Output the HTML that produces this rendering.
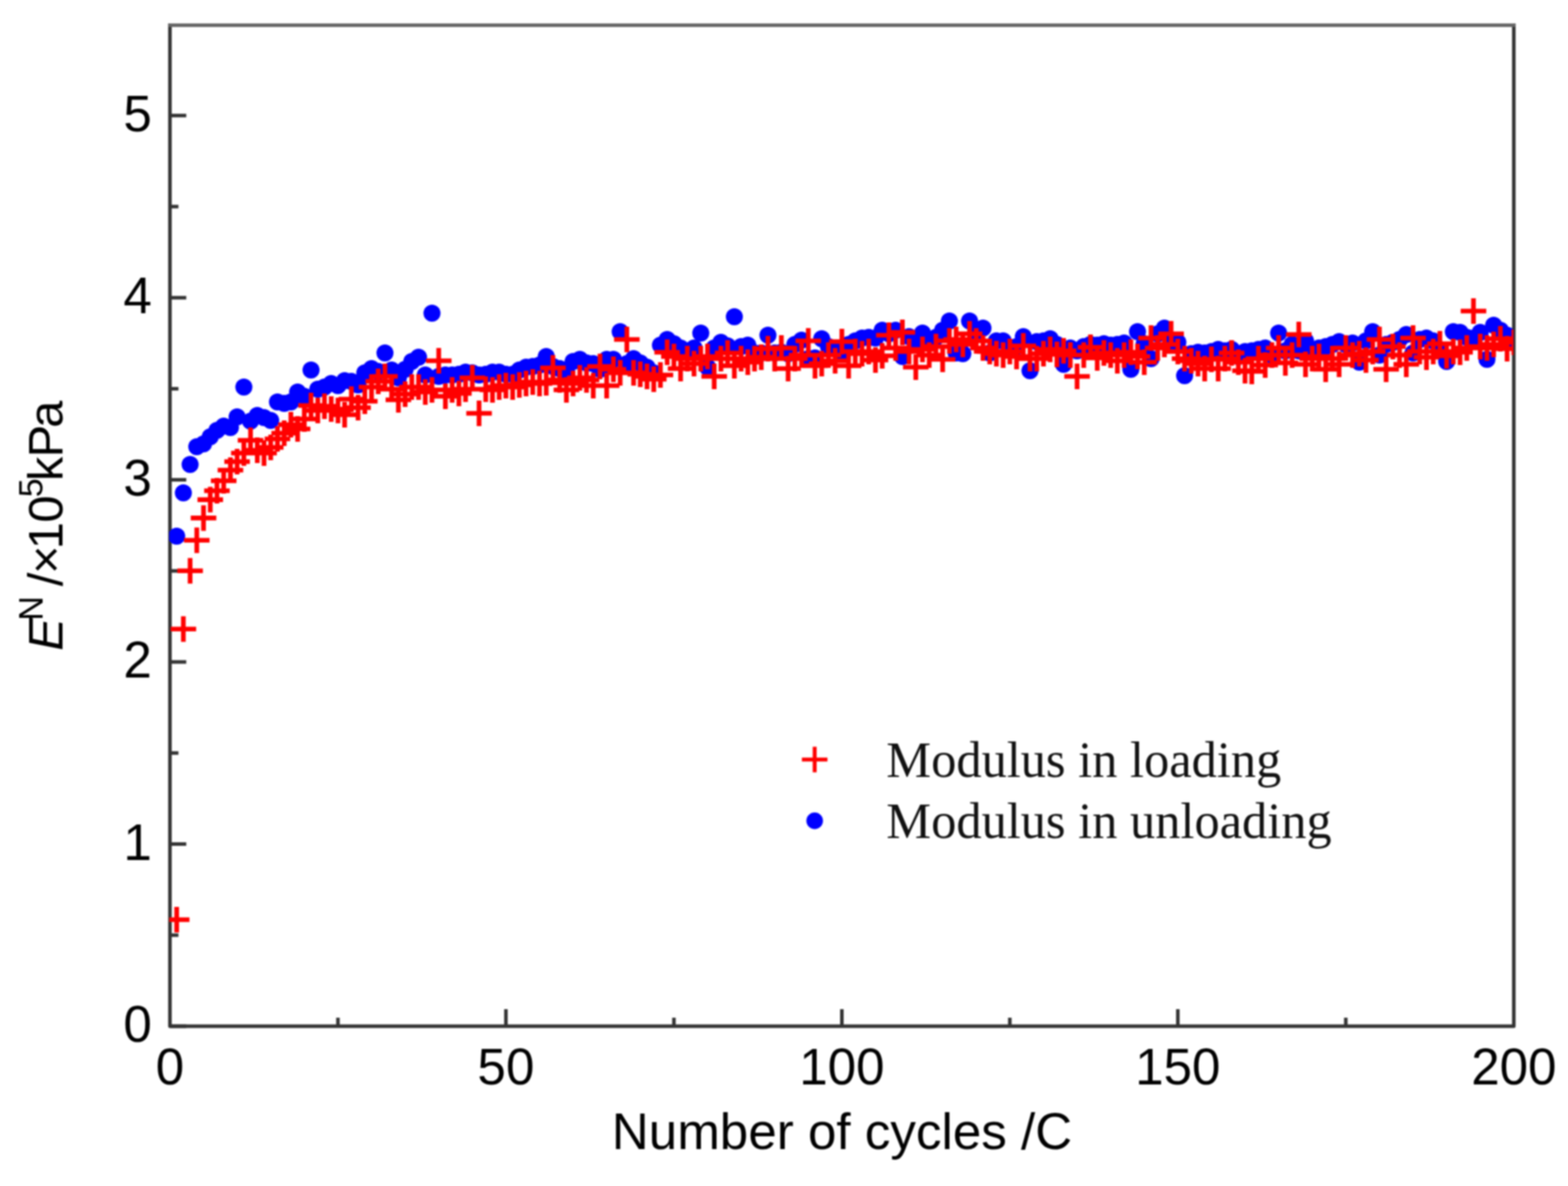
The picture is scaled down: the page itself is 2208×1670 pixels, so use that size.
<!DOCTYPE html>
<html><head><meta charset="utf-8"><title>Modulus vs cycles</title>
<style>
html,body{margin:0;padding:0;background:#fff;}
body{width:2208px;height:1670px;overflow:hidden;}
svg{display:block;filter:blur(1.2px);}
</style></head><body>
<svg width="2208" height="1670" viewBox="0 0 2208 1670">
<rect x="0" y="0" width="2208" height="1670" fill="#ffffff"/>
<g stroke="#333333" stroke-width="5" fill="none" stroke-linecap="square">
<path d="M239.3 35.4V1445.0H2131.7V35.4" stroke-linejoin="round"/>
<path d="M239.3 35.4H2131.7" stroke="#666666" stroke-linecap="round"/>
<line x1="239.3" y1="1445.0" x2="262.3" y2="1445.0" stroke-linecap="butt"/>
<line x1="239.3" y1="1188.5" x2="262.3" y2="1188.5" stroke-linecap="butt"/>
<line x1="239.3" y1="932.1" x2="262.3" y2="932.1" stroke-linecap="butt"/>
<line x1="239.3" y1="675.6" x2="262.3" y2="675.6" stroke-linecap="butt"/>
<line x1="239.3" y1="419.2" x2="262.3" y2="419.2" stroke-linecap="butt"/>
<line x1="239.3" y1="162.7" x2="262.3" y2="162.7" stroke-linecap="butt"/>
<line x1="239.3" y1="1316.8" x2="251.3" y2="1316.8" stroke-linecap="butt"/>
<line x1="239.3" y1="1060.3" x2="251.3" y2="1060.3" stroke-linecap="butt"/>
<line x1="239.3" y1="803.9" x2="251.3" y2="803.9" stroke-linecap="butt"/>
<line x1="239.3" y1="547.4" x2="251.3" y2="547.4" stroke-linecap="butt"/>
<line x1="239.3" y1="290.9" x2="251.3" y2="290.9" stroke-linecap="butt"/>
<line x1="712.4" y1="1445.0" x2="712.4" y2="1421.0" stroke-linecap="butt"/>
<line x1="1185.5" y1="1445.0" x2="1185.5" y2="1421.0" stroke-linecap="butt"/>
<line x1="1658.6" y1="1445.0" x2="1658.6" y2="1421.0" stroke-linecap="butt"/>
<line x1="475.9" y1="1445.0" x2="475.9" y2="1433.0" stroke-linecap="butt"/>
<line x1="949.0" y1="1445.0" x2="949.0" y2="1433.0" stroke-linecap="butt"/>
<line x1="1422.0" y1="1445.0" x2="1422.0" y2="1433.0" stroke-linecap="butt"/>
<line x1="1895.1" y1="1445.0" x2="1895.1" y2="1433.0" stroke-linecap="butt"/>
</g>
<clipPath id="pa"><rect x="238.3" y="33" width="1892.9" height="1412"/></clipPath>
<g clip-path="url(#pa)">
<g fill="#0000ff">
<circle cx="248.8" cy="755.0" r="12"/>
<circle cx="258.2" cy="694.0" r="12"/>
<circle cx="267.7" cy="654.0" r="12"/>
<circle cx="277.1" cy="629.0" r="12"/>
<circle cx="286.6" cy="625.0" r="12"/>
<circle cx="296.1" cy="615.0" r="12"/>
<circle cx="305.5" cy="606.0" r="12"/>
<circle cx="315.0" cy="600.0" r="12"/>
<circle cx="324.5" cy="602.0" r="12"/>
<circle cx="333.9" cy="587.0" r="12"/>
<circle cx="343.4" cy="545.0" r="12"/>
<circle cx="352.8" cy="593.0" r="12"/>
<circle cx="362.3" cy="585.0" r="12"/>
<circle cx="371.8" cy="588.0" r="12"/>
<circle cx="381.2" cy="592.0" r="12"/>
<circle cx="390.7" cy="566.0" r="12"/>
<circle cx="400.2" cy="568.0" r="12"/>
<circle cx="409.6" cy="566.0" r="12"/>
<circle cx="419.1" cy="552.0" r="12"/>
<circle cx="428.5" cy="558.0" r="12"/>
<circle cx="438.0" cy="521.0" r="12"/>
<circle cx="447.5" cy="548.0" r="12"/>
<circle cx="456.9" cy="545.0" r="12"/>
<circle cx="466.4" cy="540.0" r="12"/>
<circle cx="475.9" cy="543.0" r="12"/>
<circle cx="485.3" cy="536.0" r="12"/>
<circle cx="494.8" cy="537.0" r="12"/>
<circle cx="504.2" cy="542.0" r="12"/>
<circle cx="513.7" cy="525.0" r="12"/>
<circle cx="523.2" cy="519.0" r="12"/>
<circle cx="532.6" cy="523.0" r="12"/>
<circle cx="542.1" cy="497.0" r="12"/>
<circle cx="551.5" cy="521.0" r="12"/>
<circle cx="561.0" cy="532.0" r="12"/>
<circle cx="570.5" cy="520.0" r="12"/>
<circle cx="579.9" cy="509.0" r="12"/>
<circle cx="589.4" cy="503.0" r="12"/>
<circle cx="598.9" cy="528.0" r="12"/>
<circle cx="608.3" cy="441.0" r="12"/>
<circle cx="617.8" cy="530.0" r="12"/>
<circle cx="627.2" cy="528.0" r="12"/>
<circle cx="636.7" cy="528.0" r="12"/>
<circle cx="646.2" cy="527.0" r="12"/>
<circle cx="655.6" cy="524.0" r="12"/>
<circle cx="665.1" cy="525.0" r="12"/>
<circle cx="674.6" cy="528.0" r="12"/>
<circle cx="684.0" cy="527.0" r="12"/>
<circle cx="693.5" cy="524.0" r="12"/>
<circle cx="702.9" cy="524.0" r="12"/>
<circle cx="712.4" cy="527.0" r="12"/>
<circle cx="721.9" cy="527.0" r="12"/>
<circle cx="731.3" cy="521.0" r="12"/>
<circle cx="740.8" cy="517.0" r="12"/>
<circle cx="750.2" cy="516.0" r="12"/>
<circle cx="759.7" cy="514.0" r="12"/>
<circle cx="769.2" cy="502.0" r="12"/>
<circle cx="778.6" cy="516.0" r="12"/>
<circle cx="788.1" cy="519.0" r="12"/>
<circle cx="797.6" cy="522.0" r="12"/>
<circle cx="807.0" cy="509.0" r="12"/>
<circle cx="816.5" cy="506.0" r="12"/>
<circle cx="825.9" cy="511.0" r="12"/>
<circle cx="835.4" cy="512.0" r="12"/>
<circle cx="844.9" cy="520.0" r="12"/>
<circle cx="854.3" cy="506.0" r="12"/>
<circle cx="863.8" cy="506.0" r="12"/>
<circle cx="873.3" cy="467.0" r="12"/>
<circle cx="882.7" cy="512.0" r="12"/>
<circle cx="892.2" cy="505.0" r="12"/>
<circle cx="901.6" cy="511.0" r="12"/>
<circle cx="911.1" cy="517.0" r="12"/>
<circle cx="920.6" cy="525.0" r="12"/>
<circle cx="930.0" cy="486.0" r="12"/>
<circle cx="939.5" cy="478.0" r="12"/>
<circle cx="949.0" cy="484.0" r="12"/>
<circle cx="958.4" cy="490.0" r="12"/>
<circle cx="967.9" cy="494.0" r="12"/>
<circle cx="977.3" cy="490.0" r="12"/>
<circle cx="986.8" cy="469.0" r="12"/>
<circle cx="996.3" cy="517.0" r="12"/>
<circle cx="1005.7" cy="490.0" r="12"/>
<circle cx="1015.2" cy="482.0" r="12"/>
<circle cx="1024.6" cy="487.0" r="12"/>
<circle cx="1034.1" cy="446.0" r="12"/>
<circle cx="1043.6" cy="488.0" r="12"/>
<circle cx="1053.0" cy="486.0" r="12"/>
<circle cx="1062.5" cy="497.0" r="12"/>
<circle cx="1072.0" cy="497.0" r="12"/>
<circle cx="1081.4" cy="472.0" r="12"/>
<circle cx="1090.9" cy="497.0" r="12"/>
<circle cx="1100.3" cy="496.0" r="12"/>
<circle cx="1109.8" cy="498.0" r="12"/>
<circle cx="1119.3" cy="485.0" r="12"/>
<circle cx="1128.7" cy="479.0" r="12"/>
<circle cx="1138.2" cy="505.0" r="12"/>
<circle cx="1147.7" cy="504.0" r="12"/>
<circle cx="1157.1" cy="477.0" r="12"/>
<circle cx="1166.6" cy="488.0" r="12"/>
<circle cx="1176.0" cy="490.0" r="12"/>
<circle cx="1185.5" cy="499.0" r="12"/>
<circle cx="1195.0" cy="485.0" r="12"/>
<circle cx="1204.4" cy="480.0" r="12"/>
<circle cx="1213.9" cy="476.0" r="12"/>
<circle cx="1223.3" cy="475.0" r="12"/>
<circle cx="1232.8" cy="476.0" r="12"/>
<circle cx="1242.3" cy="465.0" r="12"/>
<circle cx="1251.7" cy="470.0" r="12"/>
<circle cx="1261.2" cy="465.0" r="12"/>
<circle cx="1270.7" cy="502.0" r="12"/>
<circle cx="1280.1" cy="474.0" r="12"/>
<circle cx="1289.6" cy="485.0" r="12"/>
<circle cx="1299.0" cy="469.0" r="12"/>
<circle cx="1308.5" cy="478.0" r="12"/>
<circle cx="1318.0" cy="475.0" r="12"/>
<circle cx="1327.4" cy="465.0" r="12"/>
<circle cx="1336.9" cy="452.0" r="12"/>
<circle cx="1346.4" cy="497.0" r="12"/>
<circle cx="1355.8" cy="498.0" r="12"/>
<circle cx="1365.3" cy="452.0" r="12"/>
<circle cx="1374.7" cy="470.0" r="12"/>
<circle cx="1384.2" cy="462.0" r="12"/>
<circle cx="1393.7" cy="497.0" r="12"/>
<circle cx="1403.1" cy="480.0" r="12"/>
<circle cx="1412.6" cy="480.0" r="12"/>
<circle cx="1422.0" cy="490.0" r="12"/>
<circle cx="1431.5" cy="488.0" r="12"/>
<circle cx="1441.0" cy="474.0" r="12"/>
<circle cx="1450.4" cy="522.0" r="12"/>
<circle cx="1459.9" cy="481.0" r="12"/>
<circle cx="1469.4" cy="480.0" r="12"/>
<circle cx="1478.8" cy="477.0" r="12"/>
<circle cx="1488.3" cy="485.0" r="12"/>
<circle cx="1497.7" cy="513.0" r="12"/>
<circle cx="1507.2" cy="490.0" r="12"/>
<circle cx="1516.7" cy="494.0" r="12"/>
<circle cx="1526.1" cy="488.0" r="12"/>
<circle cx="1535.6" cy="485.0" r="12"/>
<circle cx="1545.1" cy="486.0" r="12"/>
<circle cx="1554.5" cy="484.0" r="12"/>
<circle cx="1564.0" cy="486.0" r="12"/>
<circle cx="1573.4" cy="485.0" r="12"/>
<circle cx="1582.9" cy="483.0" r="12"/>
<circle cx="1592.4" cy="520.0" r="12"/>
<circle cx="1601.8" cy="467.0" r="12"/>
<circle cx="1611.3" cy="484.0" r="12"/>
<circle cx="1620.8" cy="505.0" r="12"/>
<circle cx="1630.2" cy="470.0" r="12"/>
<circle cx="1639.7" cy="462.0" r="12"/>
<circle cx="1649.1" cy="480.0" r="12"/>
<circle cx="1658.6" cy="482.0" r="12"/>
<circle cx="1668.1" cy="529.0" r="12"/>
<circle cx="1677.5" cy="498.0" r="12"/>
<circle cx="1687.0" cy="496.0" r="12"/>
<circle cx="1696.4" cy="497.0" r="12"/>
<circle cx="1705.9" cy="495.0" r="12"/>
<circle cx="1715.4" cy="492.0" r="12"/>
<circle cx="1724.8" cy="494.0" r="12"/>
<circle cx="1734.3" cy="492.0" r="12"/>
<circle cx="1743.8" cy="502.0" r="12"/>
<circle cx="1753.2" cy="495.0" r="12"/>
<circle cx="1762.7" cy="494.0" r="12"/>
<circle cx="1772.1" cy="492.0" r="12"/>
<circle cx="1781.6" cy="490.0" r="12"/>
<circle cx="1791.1" cy="500.0" r="12"/>
<circle cx="1800.5" cy="469.0" r="12"/>
<circle cx="1810.0" cy="494.0" r="12"/>
<circle cx="1819.5" cy="485.0" r="12"/>
<circle cx="1828.9" cy="494.0" r="12"/>
<circle cx="1838.4" cy="480.0" r="12"/>
<circle cx="1847.8" cy="492.0" r="12"/>
<circle cx="1857.3" cy="490.0" r="12"/>
<circle cx="1866.8" cy="488.0" r="12"/>
<circle cx="1876.2" cy="485.0" r="12"/>
<circle cx="1885.7" cy="481.0" r="12"/>
<circle cx="1895.1" cy="485.0" r="12"/>
<circle cx="1904.6" cy="483.0" r="12"/>
<circle cx="1914.1" cy="510.0" r="12"/>
<circle cx="1923.5" cy="480.0" r="12"/>
<circle cx="1933.0" cy="467.0" r="12"/>
<circle cx="1942.5" cy="500.0" r="12"/>
<circle cx="1951.9" cy="485.0" r="12"/>
<circle cx="1961.4" cy="482.0" r="12"/>
<circle cx="1970.8" cy="478.0" r="12"/>
<circle cx="1980.3" cy="471.0" r="12"/>
<circle cx="1989.8" cy="497.0" r="12"/>
<circle cx="1999.2" cy="478.0" r="12"/>
<circle cx="2008.7" cy="476.0" r="12"/>
<circle cx="2018.2" cy="480.0" r="12"/>
<circle cx="2027.6" cy="492.0" r="12"/>
<circle cx="2037.1" cy="509.0" r="12"/>
<circle cx="2046.5" cy="467.0" r="12"/>
<circle cx="2056.0" cy="468.0" r="12"/>
<circle cx="2065.5" cy="475.0" r="12"/>
<circle cx="2074.9" cy="476.0" r="12"/>
<circle cx="2084.4" cy="468.0" r="12"/>
<circle cx="2093.9" cy="506.0" r="12"/>
<circle cx="2103.3" cy="458.0" r="12"/>
<circle cx="2112.8" cy="465.0" r="12"/>
<circle cx="2122.2" cy="472.0" r="12"/>
<circle cx="2131.7" cy="480.0" r="12"/>
</g>
<path d="M230.8 1295.0H266.8M248.8 1277.0V1313.0M240.2 885.7H276.2M258.2 867.7V903.7M249.7 803.7H285.7M267.7 785.7V821.7M259.1 760.7H295.1M277.1 742.7V778.7M268.6 729.4H304.6M286.6 711.4V747.4M278.1 703.6H314.1M296.1 685.6V721.6M287.5 691.0H323.5M305.5 673.0V709.0M297.0 677.0H333.0M315.0 659.0V695.0M306.5 662.0H342.5M324.5 644.0V680.0M315.9 650.0H351.9M333.9 632.0V668.0M325.4 638.0H361.4M343.4 620.0V656.0M334.8 620.0H370.8M352.8 602.0V638.0M344.3 634.0H380.3M362.3 616.0V652.0M353.8 638.0H389.8M371.8 620.0V656.0M363.2 630.0H399.2M381.2 612.0V648.0M372.7 618.0H408.7M390.7 600.0V636.0M382.2 610.0H418.2M400.2 592.0V628.0M391.6 598.0H427.6M409.6 580.0V616.0M401.1 604.0H437.1M419.1 586.0V622.0M410.5 590.0H446.5M428.5 572.0V608.0M420.0 571.0H456.0M438.0 553.0V589.0M429.5 578.0H465.5M447.5 560.0V596.0M438.9 572.0H474.9M456.9 554.0V590.0M448.4 576.0H484.4M466.4 558.0V594.0M457.9 578.0H493.9M475.9 560.0V596.0M467.3 584.0H503.3M485.3 566.0V602.0M476.8 562.0H512.8M494.8 544.0V580.0M486.2 574.0H522.2M504.2 556.0V592.0M495.7 565.0H531.7M513.7 547.0V583.0M505.2 545.0H541.2M523.2 527.0V563.0M514.6 537.0H550.6M532.6 519.0V555.0M524.1 530.0H560.1M542.1 512.0V548.0M533.5 548.0H569.5M551.5 530.0V566.0M543.0 563.0H579.0M561.0 545.0V581.0M552.5 555.0H588.5M570.5 537.0V573.0M561.9 545.0H597.9M579.9 527.0V563.0M571.4 545.0H607.4M589.4 527.0V563.0M580.9 552.0H616.9M598.9 534.0V570.0M590.3 549.0H626.3M608.3 531.0V567.0M599.8 508.0H635.8M617.8 490.0V526.0M609.2 558.0H645.2M627.2 540.0V576.0M618.7 549.0H654.7M636.7 531.0V567.0M628.2 554.0H664.2M646.2 536.0V572.0M637.6 548.0H673.6M655.6 530.0V566.0M647.1 532.0H683.1M665.1 514.0V550.0M656.6 582.0H692.6M674.6 564.0V600.0M666.0 548.0H702.0M684.0 530.0V566.0M675.5 549.0H711.5M693.5 531.0V567.0M684.9 545.0H720.9M702.9 527.0V563.0M694.4 543.0H730.4M712.4 525.0V561.0M703.9 545.0H739.9M721.9 527.0V563.0M713.3 542.0H749.3M731.3 524.0V560.0M722.8 540.0H758.8M740.8 522.0V558.0M732.2 538.0H768.2M750.2 520.0V556.0M741.7 540.0H777.7M759.7 522.0V558.0M751.2 539.0H787.2M769.2 521.0V557.0M760.6 518.0H796.6M778.6 500.0V536.0M770.1 535.0H806.1M788.1 517.0V553.0M779.6 549.0H815.6M797.6 531.0V567.0M789.0 540.0H825.0M807.0 522.0V558.0M798.5 532.0H834.5M816.5 514.0V550.0M807.9 535.0H843.9M825.9 517.0V553.0M817.4 543.0H853.4M835.4 525.0V561.0M826.9 516.0H862.9M844.9 498.0V534.0M836.3 543.0H872.3M854.3 525.0V561.0M845.8 520.0H881.8M863.8 502.0V538.0M855.3 525.0H891.3M873.3 507.0V543.0M864.7 478.0H900.7M882.7 460.0V496.0M874.2 525.0H910.2M892.2 507.0V543.0M883.6 527.0H919.6M901.6 509.0V545.0M893.1 530.0H929.1M911.1 512.0V548.0M902.6 534.0H938.6M920.6 516.0V552.0M912.0 528.0H948.0M930.0 510.0V546.0M921.5 496.0H957.5M939.5 478.0V514.0M931.0 502.0H967.0M949.0 484.0V520.0M940.4 519.0H976.4M958.4 501.0V537.0M949.9 505.0H985.9M967.9 487.0V523.0M959.3 512.0H995.3M977.3 494.0V530.0M968.8 505.0H1004.8M986.8 487.0V523.0M978.3 502.0H1014.3M996.3 484.0V520.0M987.7 530.0H1023.7M1005.7 512.0V548.0M997.2 505.0H1033.2M1015.2 487.0V523.0M1006.6 497.0H1042.6M1024.6 479.0V515.0M1016.1 515.0H1052.1M1034.1 497.0V533.0M1025.6 505.0H1061.6M1043.6 487.0V523.0M1035.0 510.0H1071.0M1053.0 492.0V528.0M1044.5 505.0H1080.5M1062.5 487.0V523.0M1054.0 503.0H1090.0M1072.0 485.0V521.0M1063.4 491.0H1099.4M1081.4 473.0V509.0M1072.9 505.0H1108.9M1090.9 487.0V523.0M1082.3 490.0H1118.3M1100.3 472.0V508.0M1091.8 519.0H1127.8M1109.8 501.0V537.0M1101.3 505.0H1137.3M1119.3 487.0V523.0M1110.7 500.0H1146.7M1128.7 482.0V518.0M1120.2 480.0H1156.2M1138.2 462.0V498.0M1129.7 515.0H1165.7M1147.7 497.0V533.0M1139.1 512.0H1175.1M1157.1 494.0V530.0M1148.6 500.0H1184.6M1166.6 482.0V518.0M1158.0 508.0H1194.0M1176.0 490.0V526.0M1167.5 481.0H1203.5M1185.5 463.0V499.0M1177.0 515.0H1213.0M1195.0 497.0V533.0M1186.4 495.0H1222.4M1204.4 477.0V513.0M1195.9 498.0H1231.9M1213.9 480.0V516.0M1205.3 495.0H1241.3M1223.3 477.0V513.0M1214.8 507.0H1250.8M1232.8 489.0V525.0M1224.3 501.0H1260.3M1242.3 483.0V519.0M1233.7 472.0H1269.7M1251.7 454.0V490.0M1243.2 490.0H1279.2M1261.2 472.0V508.0M1252.7 468.0H1288.7M1270.7 450.0V486.0M1262.1 495.0H1298.1M1280.1 477.0V513.0M1271.6 517.0H1307.6M1289.6 499.0V535.0M1281.0 492.0H1317.0M1299.0 474.0V510.0M1290.5 500.0H1326.5M1308.5 482.0V518.0M1300.0 488.0H1336.0M1318.0 470.0V506.0M1309.4 506.0H1345.4M1327.4 488.0V524.0M1318.9 480.0H1354.9M1336.9 462.0V498.0M1328.4 478.0H1364.4M1346.4 460.0V496.0M1337.8 485.0H1373.8M1355.8 467.0V503.0M1347.3 470.0H1383.3M1365.3 452.0V488.0M1356.7 480.0H1392.7M1374.7 462.0V498.0M1366.2 490.0H1402.2M1384.2 472.0V508.0M1375.7 495.0H1411.7M1393.7 477.0V513.0M1385.1 498.0H1421.1M1403.1 480.0V516.0M1394.6 500.0H1430.6M1412.6 482.0V518.0M1404.0 495.0H1440.0M1422.0 477.0V513.0M1413.5 502.0H1449.5M1431.5 484.0V520.0M1423.0 487.0H1459.0M1441.0 469.0V505.0M1432.4 505.0H1468.4M1450.4 487.0V523.0M1441.9 505.0H1477.9M1459.9 487.0V523.0M1451.4 498.0H1487.4M1469.4 480.0V516.0M1460.8 492.0H1496.8M1478.8 474.0V510.0M1470.3 499.0H1506.3M1488.3 481.0V517.0M1479.7 494.0H1515.7M1497.7 476.0V512.0M1489.2 500.0H1525.2M1507.2 482.0V518.0M1498.7 530.0H1534.7M1516.7 512.0V548.0M1508.1 500.0H1544.1M1526.1 482.0V518.0M1517.6 489.0H1553.6M1535.6 471.0V507.0M1527.1 504.0H1563.1M1545.1 486.0V522.0M1536.5 497.0H1572.5M1554.5 479.0V515.0M1546.0 500.0H1582.0M1564.0 482.0V518.0M1555.4 508.0H1591.4M1573.4 490.0V526.0M1564.9 500.0H1600.9M1582.9 482.0V518.0M1574.4 496.0H1610.4M1592.4 478.0V514.0M1583.8 502.0H1619.8M1601.8 484.0V520.0M1593.3 510.0H1629.3M1611.3 492.0V528.0M1602.8 476.0H1638.8M1620.8 458.0V494.0M1612.2 490.0H1648.2M1630.2 472.0V508.0M1621.7 485.0H1657.7M1639.7 467.0V503.0M1631.1 470.0H1667.1M1649.1 452.0V488.0M1640.6 495.0H1676.6M1658.6 477.0V513.0M1650.1 505.0H1686.1M1668.1 487.0V523.0M1659.5 508.0H1695.5M1677.5 490.0V526.0M1669.0 512.0H1705.0M1687.0 494.0V530.0M1678.4 519.0H1714.4M1696.4 501.0V537.0M1687.9 506.0H1723.9M1705.9 488.0V524.0M1697.4 519.0H1733.4M1715.4 501.0V537.0M1706.8 505.0H1742.8M1724.8 487.0V523.0M1716.3 497.0H1752.3M1734.3 479.0V515.0M1725.8 510.0H1761.8M1743.8 492.0V528.0M1735.2 522.0H1771.2M1753.2 504.0V540.0M1744.7 523.0H1780.7M1762.7 505.0V541.0M1754.1 505.0H1790.1M1772.1 487.0V523.0M1763.6 514.0H1799.6M1781.6 496.0V532.0M1773.1 500.0H1809.1M1791.1 482.0V518.0M1782.5 490.0H1818.5M1800.5 472.0V508.0M1792.0 511.0H1828.0M1810.0 493.0V529.0M1801.5 500.0H1837.5M1819.5 482.0V518.0M1810.9 471.0H1846.9M1828.9 453.0V489.0M1820.4 513.0H1856.4M1838.4 495.0V531.0M1829.8 505.0H1865.8M1847.8 487.0V523.0M1839.3 502.0H1875.3M1857.3 484.0V520.0M1848.8 520.0H1884.8M1866.8 502.0V538.0M1858.2 505.0H1894.2M1876.2 487.0V523.0M1867.7 513.0H1903.7M1885.7 495.0V531.0M1877.1 490.0H1913.1M1895.1 472.0V508.0M1886.6 500.0H1922.6M1904.6 482.0V518.0M1896.1 498.0H1932.1M1914.1 480.0V516.0M1905.5 507.0H1941.5M1923.5 489.0V525.0M1915.0 495.0H1951.0M1933.0 477.0V513.0M1924.5 478.0H1960.5M1942.5 460.0V496.0M1933.9 520.0H1969.9M1951.9 502.0V538.0M1943.4 488.0H1979.4M1961.4 470.0V506.0M1952.8 500.0H1988.8M1970.8 482.0V518.0M1962.3 513.0H1998.3M1980.3 495.0V531.0M1971.8 476.0H2007.8M1989.8 458.0V494.0M1981.2 495.0H2017.2M1999.2 477.0V513.0M1990.7 503.0H2026.7M2008.7 485.0V521.0M2000.2 495.0H2036.2M2018.2 477.0V513.0M2009.6 484.0H2045.6M2027.6 466.0V502.0M2019.1 501.0H2055.1M2037.1 483.0V519.0M2028.5 495.0H2064.5M2046.5 477.0V513.0M2038.0 496.0H2074.0M2056.0 478.0V514.0M2047.5 490.0H2083.5M2065.5 472.0V508.0M2056.9 438.0H2092.9M2074.9 420.0V456.0M2066.4 488.0H2102.4M2084.4 470.0V506.0M2075.9 490.0H2111.9M2093.9 472.0V508.0M2085.3 485.0H2121.3M2103.3 467.0V503.0M2094.8 477.0H2130.8M2112.8 459.0V495.0M2104.2 491.0H2140.2M2122.2 473.0V509.0M2113.7 482.0H2149.7M2131.7 464.0V500.0" stroke="#ff0000" stroke-width="6.6" fill="none"/>
</g>
<g font-family="Liberation Sans, Arial, sans-serif" font-size="72" fill="#000">
<text x="213.7" y="1467.2" text-anchor="end">0</text>
<text x="213.7" y="1210.7" text-anchor="end">1</text>
<text x="213.7" y="954.3" text-anchor="end">2</text>
<text x="213.7" y="697.8" text-anchor="end">3</text>
<text x="213.7" y="441.4" text-anchor="end">4</text>
<text x="213.7" y="184.9" text-anchor="end">5</text>
<text x="239.3" y="1526.5" text-anchor="middle">0</text>
<text x="712.4" y="1526.5" text-anchor="middle">50</text>
<text x="1185.5" y="1526.5" text-anchor="middle">100</text>
<text x="1658.6" y="1526.5" text-anchor="middle">150</text>
<text x="2131.7" y="1526.5" text-anchor="middle">200</text>
<text x="861.6" y="1618" font-size="72">Number of cycles /C</text>
<text transform="translate(87.5,0) rotate(-90)"><tspan x="-916.3" y="0.0" font-size="69" font-style="italic">E</tspan><tspan x="-874.0" y="-27.5" font-size="48">N</tspan><tspan x="-825.5" y="0.0" font-size="69">/</tspan><tspan x="-808.2" y="0.0" font-size="69">×</tspan><tspan x="-773.6" y="0.0" font-size="69">1</tspan><tspan x="-735.9" y="0.0" font-size="69">0</tspan><tspan x="-700.3" y="-27.5" font-size="48">5</tspan><tspan x="-677.4" y="0.0" font-size="69">k</tspan><tspan x="-644.3" y="0.0" font-size="69">P</tspan><tspan x="-602.4" y="0.0" font-size="69">a</tspan></text>
</g>
<path d="M1129.2 1069.4H1165.2M1147.2 1051.4V1087.4" stroke="#ff0000" stroke-width="5.5" fill="none"/>
<circle cx="1147.2" cy="1155.7" r="11.7" fill="#0000ff"/>
<g font-family="Liberation Serif, Times New Roman, serif" font-size="71" fill="#111">
<text x="1248" y="1094">Modulus in loading</text>
<text x="1248" y="1179.5">Modulus in unloading</text>
</g>
</svg>
</body></html>
